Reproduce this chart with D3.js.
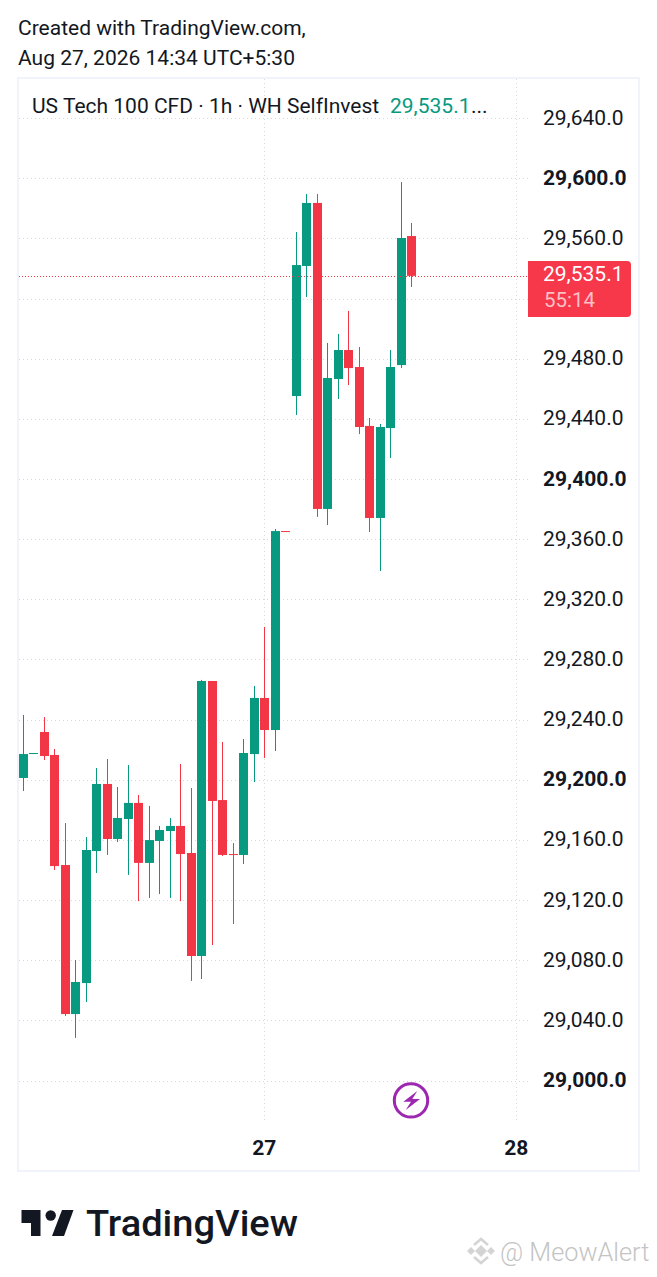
<!DOCTYPE html>
<html><head><meta charset="utf-8">
<script src="https://cdnjs.cloudflare.com/ajax/libs/d3/7.8.5/d3.min.js"></script>
<style>html,body{margin:0;padding:0;background:#fff}svg{display:block}text{font-family:Roboto,sans-serif}</style>
</head><body><svg id="c" width="657" height="1277"></svg>
<script>
const hours=d3.range(-23,15);
const opens=[29201.2,29217.5,29231.8,29216.5,29143.3,29044.2,29064.8,29152.6,29197.2,29160.6,29173.9,29184.6,29144.7,29159.3,29165.9,29169.3,29151.3,29082.8,29265.7,29186.5,29150.6,29150.0,29217.1,29254.4,29233.1,29365.4,29455.2,29541.7,29583.6,29380.1,29466.5,29485.8,29474.5,29435.3,29374.1,29433.9,29475.8,29561.6];
const highs=[29243.1,29217.8,29241.7,29220.5,29171.2,29080.1,29161.9,29207.8,29213.8,29195.2,29209.8,29189.9,29182.6,29169.3,29174.6,29210.5,29194.5,29266.4,29265.7,29225.1,29157.9,29227.1,29262.4,29301.6,29366.8,29365.4,29564.3,29589.6,29589.6,29490.5,29496.5,29511.8,29487.8,29440.6,29436.6,29485.8,29597.5,29570.3];
const lows=[29192.5,29217.5,29213.1,29140.0,29042.9,29028.3,29052.2,29138.0,29150.0,29158.6,29136.7,29119.3,29121.4,29124.0,29121.4,29119.3,29066.2,29067.5,29090.1,29149.3,29104.1,29144.0,29198.5,29214.5,29219.1,29365.0,29442.6,29521.1,29374.8,29369.4,29453.2,29462.5,29429.9,29364.8,29338.8,29414.0,29473.8,29527.7];
const closes=[29217.1,29217.8,29215.8,29142.6,29044.2,29065.5,29153.3,29197.2,29160.6,29174.6,29184.6,29144.7,29159.9,29166.6,29169.3,29150.6,29082.8,29265.7,29185.9,29150.0,29150.2,29217.8,29254.4,29233.1,29365.4,29365.0,29542.3,29583.6,29380.1,29467.2,29485.8,29473.8,29434.6,29374.1,29434.6,29474.5,29560.3,29535.1];
const priceTicks=d3.range(29000,29641,40);
const dayTicks=[{hour:0,label:"27"},{hour:24,label:"28"}];
const lastPrice=29535.1;
const up="#089981",down="#f23645",tag="#f7374a",ink="#131722";
const fmt=d3.format(",.1f");
const svg=d3.select("#c");
const y=d3.scaleLinear().domain([29000,29600]).range([1080.5,178.3]);
const x=d3.scaleLinear().domain([0,24]).range([264.3,516.3]);
// frame
svg.append("rect").attr("x",18).attr("y",78).attr("width",621).attr("height",1093).attr("fill","#fff").attr("stroke","#f0f3fa").attr("stroke-width",2);
const applyG=s=>s.attr("stroke","#d6d8de").attr("stroke-width",1).attr("stroke-dasharray","1 3");
svg.append("g").selectAll("line").data(priceTicks).join("line").attr("x1",19).attr("x2",528).attr("y1",d=>Math.round(y(d))+.5).attr("y2",d=>Math.round(y(d))+.5).call(applyG);
svg.append("g").selectAll("line").data(dayTicks).join("line").attr("x1",d=>Math.round(x(d.hour))+.5).attr("x2",d=>Math.round(x(d.hour))+.5).attr("y1",79).attr("y2",1123).call(applyG);
// candles
const data=hours.map((h,i)=>({h,o:opens[i],hi:highs[i],l:lows[i],c:closes[i]}));
const col=d=>d.c>=d.o?up:down;
const g=svg.append("g");
g.selectAll("line").data(data).join("line").attr("x1",d=>Math.round(x(d.h))+.5).attr("x2",d=>Math.round(x(d.h))+.5).attr("y1",d=>y(d.hi)).attr("y2",d=>y(d.l)).attr("stroke",col).attr("stroke-width",1);
g.selectAll("rect").data(data).join("rect").attr("x",d=>Math.round(x(d.h))-4).attr("width",9).attr("y",d=>y(Math.max(d.o,d.c))).attr("height",d=>Math.max(1,Math.abs(y(d.o)-y(d.c)))).attr("fill",col);
// last price line
const lyLine=Math.round(y(lastPrice))+.5;
svg.append("line").attr("x1",19).attr("x2",528).attr("y1",lyLine).attr("y2",lyLine).attr("stroke",down).attr("stroke-width",1).attr("stroke-dasharray","1 2");
// price labels
svg.append("g").selectAll("text").data(priceTicks).join("text").attr("x",543).attr("y",d=>y(d)+6.5).attr("font-size",21).attr("font-weight",d=>d%200===0?700:400).attr("fill",ink).text(fmt);
// last price tag
const ly=y(lastPrice);
svg.append("path").attr("d",`M528 ${ly-15}H627a4 4 0 0 1 4 4V${ly+37}a4 4 0 0 1 -4 4H528Z`).attr("fill",tag);
svg.append("text").attr("x",543).attr("y",ly+5.5).attr("font-size",21).attr("fill","#fff").text(fmt(lastPrice));
svg.append("text").attr("x",544).attr("y",ly+31).attr("font-size",20.5).attr("fill","#fff").attr("fill-opacity",.7).text("55:14");
// day labels
svg.append("g").selectAll("text").data(dayTicks).join("text").attr("x",d=>x(d.hour)).attr("y",1155).attr("text-anchor","middle").attr("font-size",21).attr("font-weight",700).attr("fill",ink).text(d=>d.label);
// header
svg.append("text").attr("x",18).attr("y",35).attr("font-size",21).attr("fill",ink).text("Created with TradingView.com,");
svg.append("text").attr("x",18).attr("y",65).attr("font-size",21).attr("fill",ink).text("Aug 27, 2026 14:34 UTC+5:30");
svg.append("text").attr("x",32).attr("y",113).attr("font-size",21).attr("fill",ink).text("US Tech 100 CFD · 1h · WH SelfInvest");
svg.append("text").attr("x",390).attr("y",113).attr("font-size",21).attr("fill",up).text(fmt(lastPrice));
svg.append("text").attr("x",471).attr("y",113).attr("font-size",21).attr("fill",ink).text("...");
// lightning
svg.append("circle").attr("cx",411).attr("cy",1100.4).attr("r",16.7).attr("fill","#fff").attr("stroke","#9c27b0").attr("stroke-width",3);
svg.append("path").attr("d","M417.3 1091 L403.3 1101.7 H411 L405.7 1110 L420 1099 H412.3 Z").attr("fill","#9c27b0");
// logo
const lg=svg.append("g").attr("fill","#131722");
lg.append("path").attr("d","M21.5 1210H40.5V1236H31V1223H21.5Z");
lg.append("circle").attr("cx",50.7).attr("cy",1215.5).attr("r",5.2);
lg.append("path").attr("d","M62 1210H73.5L64 1236H52Z");
lg.append("text").attr("x",86).attr("y",1236).attr("font-family","Inter").attr("font-size",36).attr("font-weight",500).attr("textLength",212).attr("lengthAdjust","spacingAndGlyphs").text("TradingView");
// watermark
const wm=svg.append("g").attr("fill","#d4d4d4");
wm.append("path").attr("d","M481 1245L487 1251L481 1257L475 1251Z");
wm.append("path").attr("d","M471 1247L475 1251L471 1255L467 1251ZM491 1247L495 1251L491 1255L487 1251Z");
wm.append("path").attr("fill","none").attr("stroke","#d4d4d4").attr("stroke-width",2.5).attr("d","M474 1245L481 1239L488 1245M474 1257L481 1263L488 1257");
svg.append("text").attr("x",500).attr("y",1260.5).attr("font-size",25.3).attr("font-family","Noto Sans").attr("font-weight",300).attr("fill","#c4c4c4").text("@ MeowAlert");
</script></body></html>
